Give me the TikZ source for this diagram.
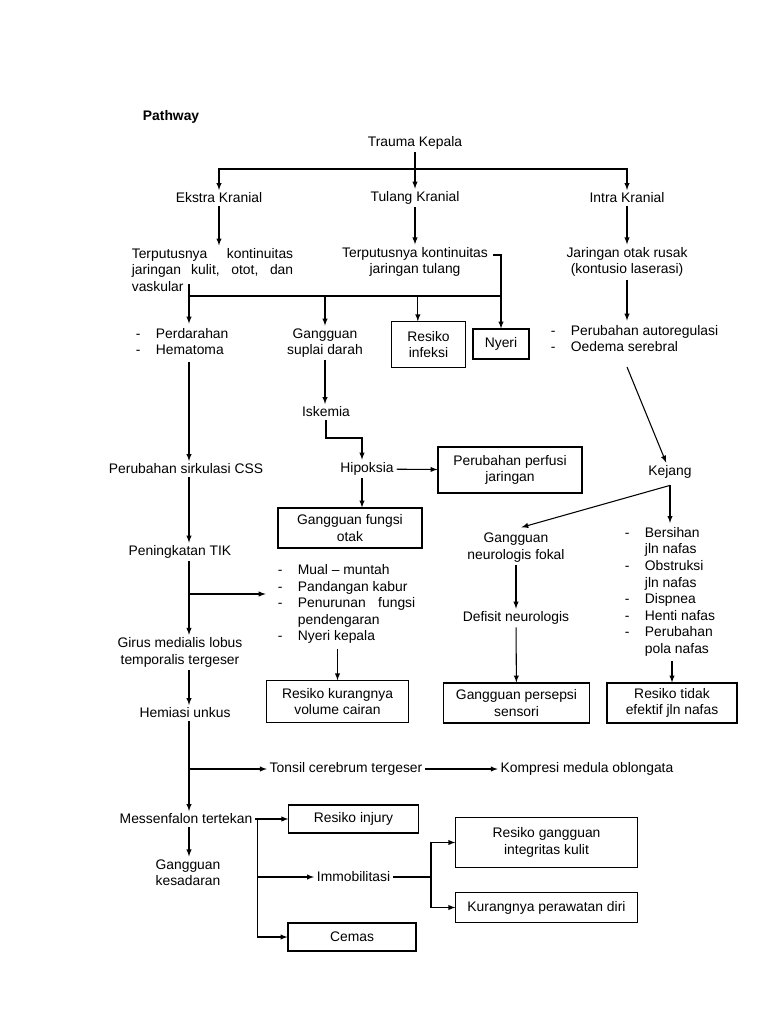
\documentclass[tikz,border=0pt]{standalone}
\usepackage{fontspec}
\setmainfont{Liberation Sans}
\usepackage{amsmath}
\usetikzlibrary{arrows, calc, positioning}
\hyphenpenalty=10000
\newcommand{\daftar}[1]{\begin{tabular}{@{}p{15pt}@{}l@{}}#1\end{tabular}}

\begin{document}
\begin{tikzpicture}[x=0.75pt, y=-0.75pt, font=\fontsize{10.4}{12.4}\selectfont,
    teks/.style={inner sep=2pt, align=center},
    kotak/.style={draw, line width=0.8pt, inner sep=2pt, align=center},
    panah/.style={-latex, line width=0.8pt},
    garis/.style={line width=0.8pt}]
        \useasboundingbox (0,0) rectangle (768,1024);
        \node [teks, anchor=west, font=\fontsize{10.4}{12.4}\selectfont\bfseries] (judul) at (140,117) {Pathway};
        \node [teks] (trauma) at (415,143) {Trauma Kepala};
        \node [teks] (ekstra) at (219,198) {Ekstra Kranial};
        \node [teks] (tulang) at (415,198) {Tulang Kranial};
        \node [teks] (intra) at (627,198) {Intra Kranial};
        \node [teks, text width=121pt, align=justify] (putus1) at (212.5,270) {Terputusnya kontinuitas jaringan kulit, otot, dan vaskular};
        \node [teks] (putus2) at (415,262) {Terputusnya kontinuitas\\jaringan tulang};
        \node [teks] (jaringan) at (627,262) {Jaringan otak rusak\\(kontusio laserasi)};
        \node [teks, anchor=west] (perdarahan) at (133,343) {\daftar{- & Perdarahan\\ - & Hematoma}};
        \node [teks] (suplai) at (325,343) {Gangguan\\suplai darah};
        \node [kotak, minimum width=56pt, minimum height=34pt] (infeksi) at (428.5,344.5) {Resiko\\infeksi};
        \node [kotak, minimum width=42pt, minimum height=22.5pt] (nyeri) at (501,344) {Nyeri};
        \node [teks, anchor=west] (auto) at (548,340) {\daftar{- & Perubahan autoregulasi\\ - & Oedema serebral}};
        \node [teks] (iskemia) at (326,412) {Iskemia};
        \node [teks] (css) at (186,469) {Perubahan sirkulasi CSS};
        \node [teks] (hipoksia) at (367,469) {Hipoksia};
        \node [kotak, minimum width=108pt, minimum height=34.5pt] (perfusi) at (510,470) {Perubahan perfusi\\jaringan};
        \node [teks] (kejang) at (670,472) {Kejang};
        \node [kotak, minimum width=108pt, minimum height=30pt] (fungsi) at (350,528) {Gangguan fungsi\\otak};
        \node [teks] (tik) at (180,552) {Peningkatan TIK};
        \node [teks] (fokal) at (516,547.5) {Gangguan\\neurologis fokal};
        \node [teks, anchor=west] (bersihan) at (622,592) {\daftar{- & Bersihan\\ & jln nafas\\ - & Obstruksi\\ & jln nafas\\ - & Dispnea\\ - & Henti nafas\\ - & Perubahan\\ & pola nafas}};
        \node [teks, anchor=west] (mual) at (275,604.5) {\daftar{- & Mual -- muntah\\ - & Pandangan kabur\\ - & \makebox[88pt][s]{Penurunan fungsi}\\ & pendengaran\\ - & Nyeri kepala}};
        \node [teks] (defisit) at (516,618) {Defisit neurologis};
        \node [teks] (girus) at (180,652.5) {Girus medialis lobus\\temporalis tergeser};
        \node [kotak, minimum width=107pt, minimum height=31pt] (volume) at (337.5,701.5) {Resiko kurangnya\\volume cairan};
        \node [kotak, minimum width=109pt, minimum height=30pt] (persepsi) at (516.5,703) {Gangguan persepsi\\sensori};
        \node [kotak, minimum width=97.5pt, minimum height=30pt] (efektif) at (672,703) {Resiko tidak\\efektif jln nafas};
        \node [teks] (hemiasi) at (185,713) {Hemiasi unkus};
        \node [teks] (tonsil) at (346,769) {Tonsil cerebrum tergeser};
        \node [teks] (kompresi) at (587,769) {Kompresi medula oblongata};
        \node [teks] (messenfalon) at (186,819) {Messenfalon tertekan};
        \node [kotak, minimum width=97pt, minimum height=21pt] (injury) at (353.5,819) {Resiko injury};
        \node [kotak, minimum width=136pt, minimum height=37pt] (integritas) at (546.5,842.5) {Resiko gangguan\\integritas kulit};
        \node [teks] (kesadaran) at (188,872.5) {Gangguan\\kesadaran};
        \node [teks] (immob) at (353.5,877) {Immobilitasi};
        \node [kotak, minimum width=136pt, minimum height=23pt] (kurang) at (546.5,907.5) {Kurangnya perawatan diri};
        \node [kotak, minimum width=96pt, minimum height=21pt] (cemas) at (352,937) {Cemas};
        \coordinate (t1) at (415,169);
        \coordinate (v1) at (189,284);
        \coordinate (v2) at (189,296);
        \coordinate (t2a) at (493,255);
        \coordinate (t2b) at (501,255);
        \coordinate (r1) at ([xshift=-8pt]infeksi.north);
        \coordinate (i1) at (362,438);
        \coordinate (b1) at (189,594);
        \coordinate (b2) at (189,769);
        \coordinate (b3) at ([xshift=-7pt]mual.west);
        \coordinate (o1) at (627,367);
        \coordinate (k2) at ([yshift=-3pt]kejang.south);
        \coordinate (m1) at ([xshift=2pt]messenfalon.east);
        \coordinate (k1) at (431,877);
        \draw [panah] (trauma) -- (tulang);
        \draw [panah] (t1) -| (ekstra);
        \draw [panah] (t1) -| (intra);
        \draw [panah] (ekstra.south) -- (ekstra.south |- putus1.north);
        \draw [panah] (tulang) -- (putus2);
        \draw [panah] (intra) -- (jaringan);
        \draw [garis] (v2) -- (v2 -| t2b);
        \draw [panah] (v1) -- (v1 |- perdarahan.north);
        \draw [panah] (v2 -| suplai) -- (suplai);
        \draw [panah] (r1 |- v2) -- (r1);
        \draw [panah] (t2a) -- (t2b) -- (nyeri);
        \draw [panah] (jaringan.south |- jaringan.south) -- (jaringan.south |- auto.north);
        \draw [panah] (perdarahan.south -| v1) -- (css.north -| v1);
        \draw [panah] (css.south -| v1) -- (tik.north -| v1);
        \draw [panah] (tik.south -| v1) -- (girus.north -| v1);
        \draw [panah] (b1) -- (b3 |- b1);
        \draw [panah] (girus.south -| v1) -- (hemiasi.north -| v1);
        \draw [panah] (hemiasi.south -| v1) -- (messenfalon.north -| v1);
        \draw [panah] (b2) -- (tonsil);
        \draw [panah] (tonsil) -- (kompresi);
        \draw [panah] (messenfalon.south -| v1) -- (kesadaran.north -| v1);
        \draw [panah] (suplai.south) -- (suplai.south |- iskemia.north);
        \draw [panah] (iskemia.south) |- (i1) -- (i1 |- hipoksia.north);
        \draw [panah] (hipoksia) -- (perfusi);
        \draw [panah] (hipoksia.south -| i1) -- (fungsi.north -| i1);
        \draw [panah] (mual.south -| volume) -- (volume);
        \draw [panah] (o1) -- (kejang);
        \draw [panah] (k2) -- ([xshift=4pt,yshift=2pt]fokal.north);
        \draw [panah] (k2) -- (k2 |- bersihan.north);
        \draw [panah] (fokal) -- (defisit);
        \draw [panah] (defisit) -- (persepsi);
        \draw [panah] (bersihan.south -| efektif) -- (efektif);
        \draw [panah] (messenfalon) -- (injury);
        \draw [panah] (m1) |- (immob);
        \draw [panah] (m1) |- (cemas);
        \draw [garis] (immob) -- (k1);
        \draw [panah] (k1) |- (integritas);
        \draw [panah] (k1) |- (kurang);
    \end{tikzpicture}
\end{document}
